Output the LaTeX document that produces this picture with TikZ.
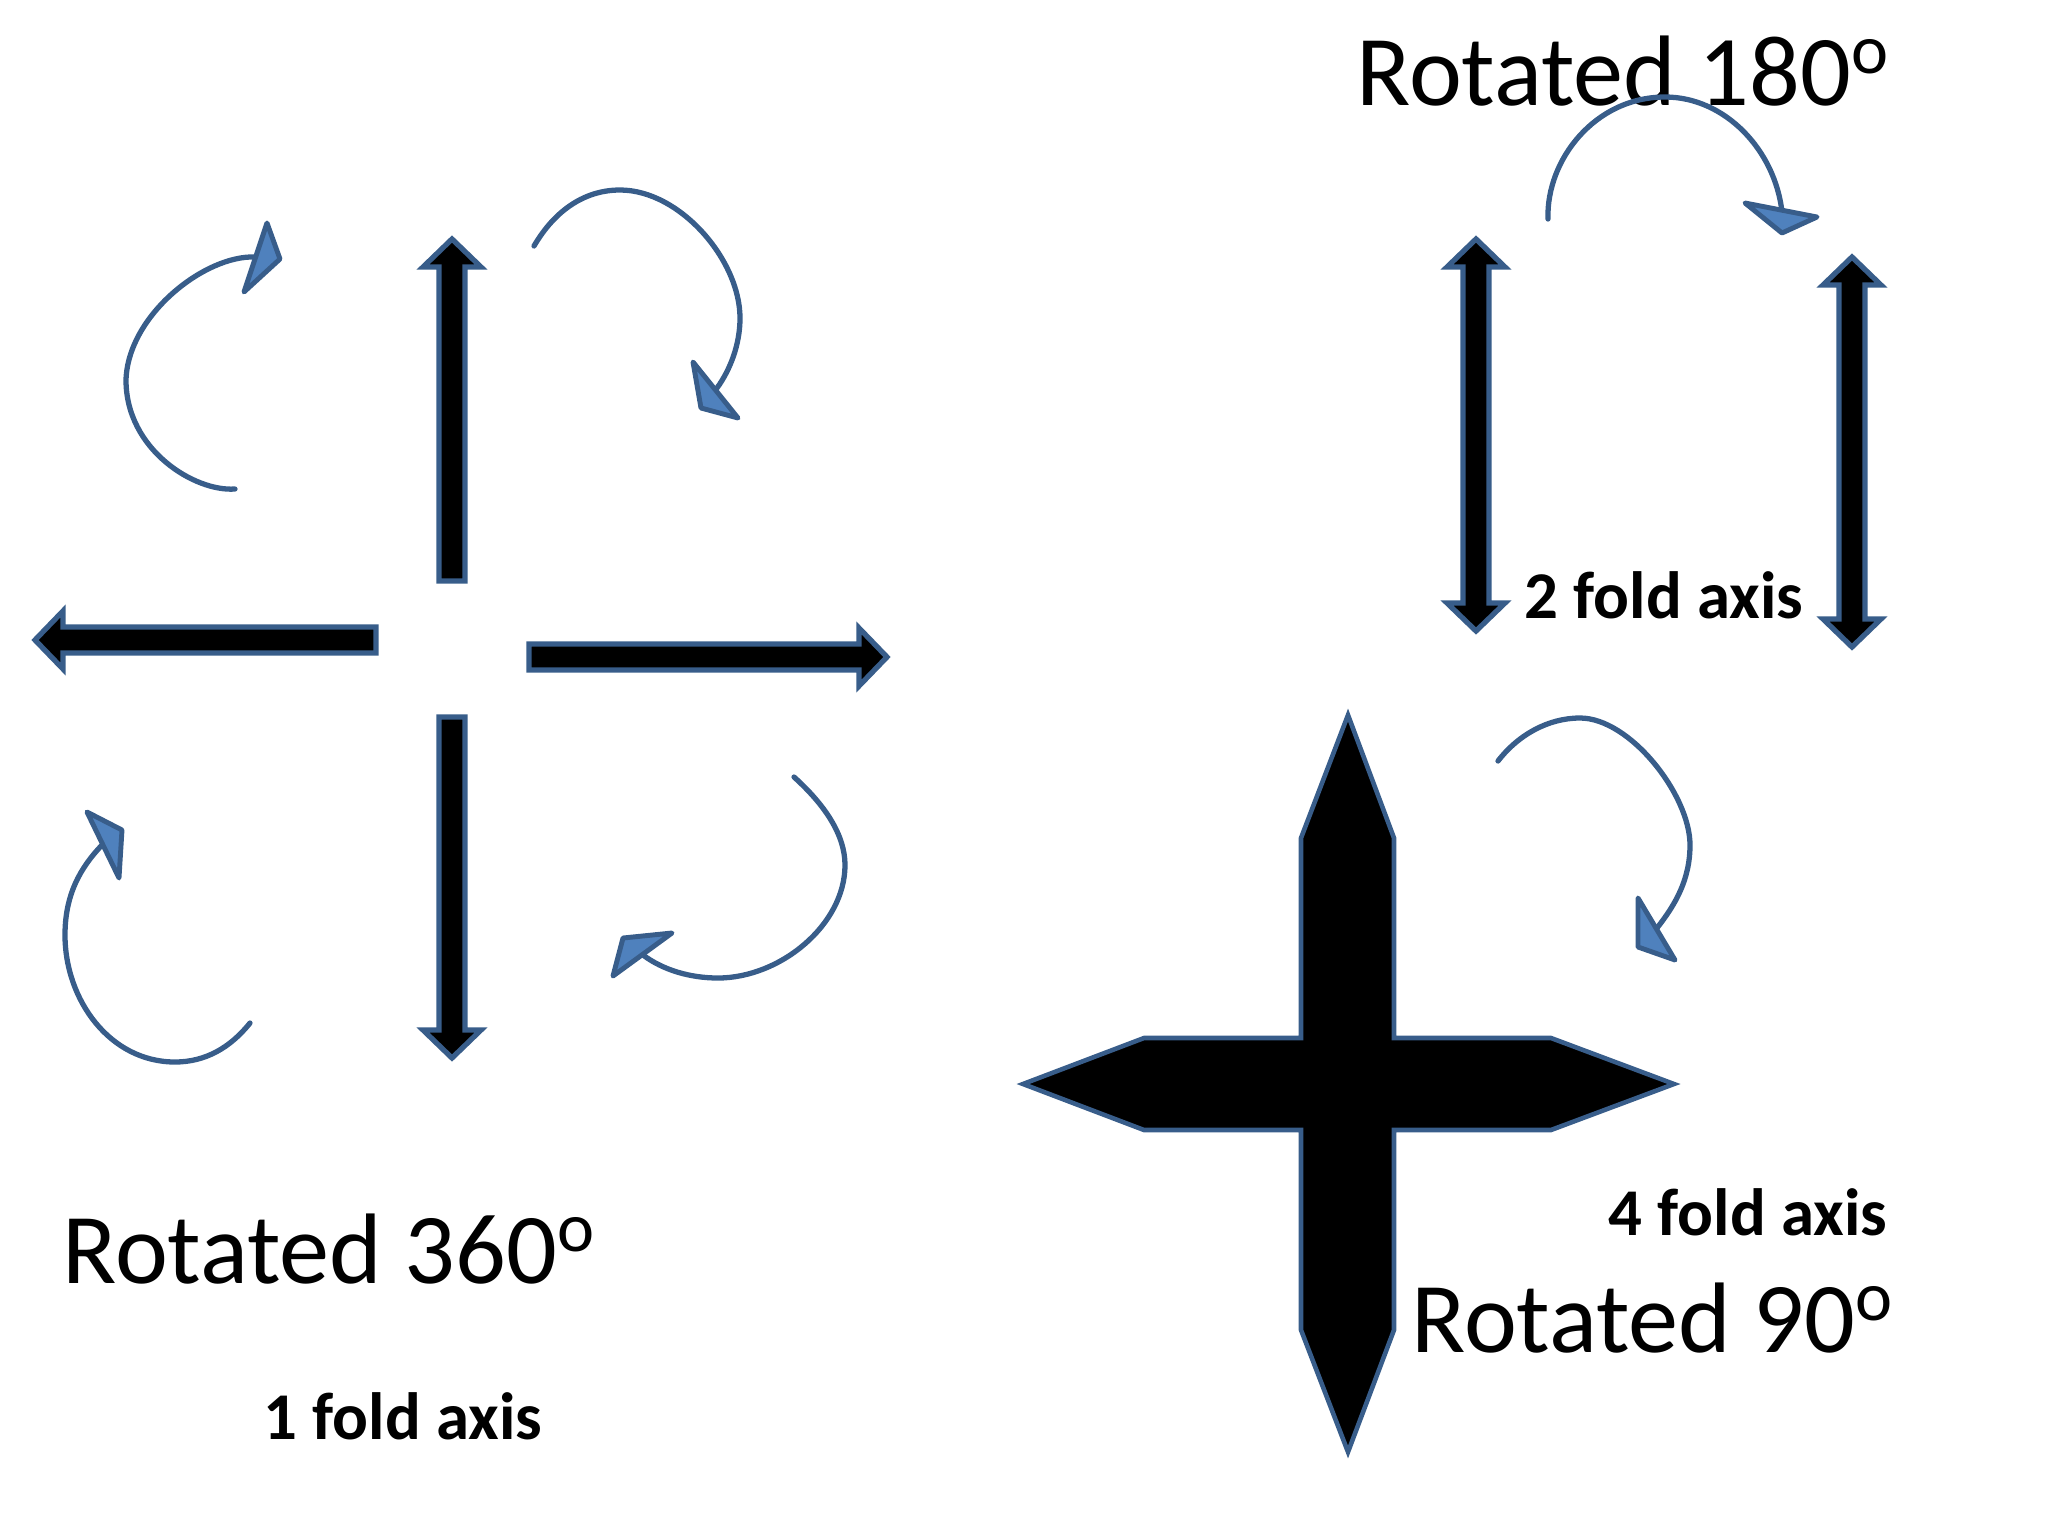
\documentclass[tikz,border=0pt]{standalone}
\usepackage{fontspec}
\setmainfont{Carlito}
\usetikzlibrary{calc}

\definecolor{edgeblue}{HTML}{385D8A}
\definecolor{headblue}{HTML}{4F81BD}

\tikzset{
  block/.style = {draw = edgeblue, fill = black, line width = 1.5pt},
  turn/.style = {draw = edgeblue, line width = 1.5pt},
  turnhead/.style = {draw = edgeblue, fill = headblue, line width = 1.4pt,
    line join = round},
  bigtext/.style = {font = \fontsize{28.5}{34}\selectfont, inner sep = 0,
    anchor = base west},
  foldtext/.style = {font = \bfseries\fontsize{19}{23}\selectfont,
    inner sep = 0, anchor = base west}
}

% tail x, tail y, angle, length
\newcommand{\singlearrow}[4]{%
  \draw[block, shift = {(#1, #2)}, rotate = #3] (0, -\shw) -- (#4 - \hdl, -\shw)
  -- (#4 - \hdl, -\hdw) -- (#4, 0) -- (#4 - \hdl, \hdw) -- (#4 - \hdl, \shw)
  -- (0, \shw) -- cycle;}

% x, top y, length
\newcommand{\doublearrow}[3]{%
  \draw[block, shift = {(#1, #2)}] (0, 0) -- (\hdw, \hdl) -- (\shw, \hdl)
  -- (\shw, #3 - \hdl) -- (\hdw, #3 - \hdl) -- (0, #3) -- (-\hdw, #3 - \hdl)
  -- (-\shw, #3 - \hdl) -- (-\shw, \hdl) -- (-\hdw, \hdl) -- cycle;}

\begin{document}
\begin{tikzpicture}[x = .01cm, y = -.01cm, line cap = round]
  \useasboundingbox (0, 0) rectangle (2048, 1536);
  \def\shw{13}
  \def\hdw{29}
  \def\hdl{28}

  % 1 fold
  \singlearrow{452}{581}{90}{342}
  \singlearrow{376}{640}{180}{341}
  \singlearrow{529}{657}{0}{358}
  \singlearrow{452}{717}{-90}{341}

  \draw[turn] (235, 489) .. controls (195, 492) and (126, 450) .. (126, 380)
  .. controls (128, 315) and (205, 255) .. (255, 257);
  \draw[turnhead] (267, 223) -- (280, 259) -- (244, 292) -- cycle;

  \draw[turn] (534, 246) .. controls (555, 210) and (585, 190) .. (620, 190)
  .. controls (680, 190) and (740, 260) .. (740, 318)
  .. controls (740, 345) and (730, 370) .. (717, 388);
  \draw[turnhead] (693, 362) -- (701, 408) -- (738, 418) -- cycle;

  \draw[turn] (250, 1023) .. controls (230, 1048) and (205, 1062) .. (175, 1062)
  .. controls (110, 1062) and (65, 1000) .. (65, 935)
  .. controls (65, 895) and (80, 868) .. (102, 845);
  \draw[turnhead] (87, 812) -- (122, 830) -- (119, 878) -- cycle;

  \draw[turn] (794, 777) .. controls (825, 805) and (845, 835) .. (845, 865)
  .. controls (845, 925) and (780, 978) .. (718, 978)
  .. controls (690, 978) and (663, 970) .. (643, 955);
  \draw[turnhead] (623, 938) -- (672, 933) -- (613, 976) -- cycle;

  \node[bigtext] (t360) at (62, 1283) {Rotated 360\textsuperscript{o}};
  \node[foldtext] (f1) at (263, 1439) {1 fold axis};

  % 2 fold
  \node[bigtext] (t180) at (1356, 105) {Rotated 180\textsuperscript{o}};
  \doublearrow{1476}{239}{392}
  \doublearrow{1852}{257}{390}
  \node[foldtext] (f2) at (1524, 618) {2 fold axis};

  \draw[turn] (1548, 219) .. controls (1546, 160) and (1595, 97) .. (1665, 97)
  .. controls (1725, 97) and (1775, 150) .. (1782, 212);
  \draw[turnhead] (1745, 203) -- (1817, 217) -- (1782, 233) -- cycle;

  % 4 fold
  \draw[block, line width = 1.3pt] (1348, 715) -- (1394, 838) -- (1394, 1038)
  -- (1551, 1038) -- (1674, 1084) -- (1551, 1130) -- (1394, 1130)
  -- (1394, 1330) -- (1348, 1452) -- (1301, 1330) -- (1301, 1130)
  -- (1144, 1130) -- (1023, 1084) -- (1144, 1038) -- (1301, 1038)
  -- (1301, 838) -- cycle;

  \draw[turn] (1498, 761) .. controls (1518, 735) and (1548, 718) .. (1580, 718)
  .. controls (1630, 718) and (1690, 795) .. (1690, 845)
  .. controls (1690, 880) and (1675, 905) .. (1657, 928);
  \draw[turnhead] (1638, 898) -- (1638, 947) -- (1675, 960) -- cycle;

  \node[foldtext] (f4) at (1608, 1235) {4 fold axis};
  \node[bigtext] (t90) at (1411, 1352) {Rotated 90\textsuperscript{o}};
\end{tikzpicture}
\end{document}
